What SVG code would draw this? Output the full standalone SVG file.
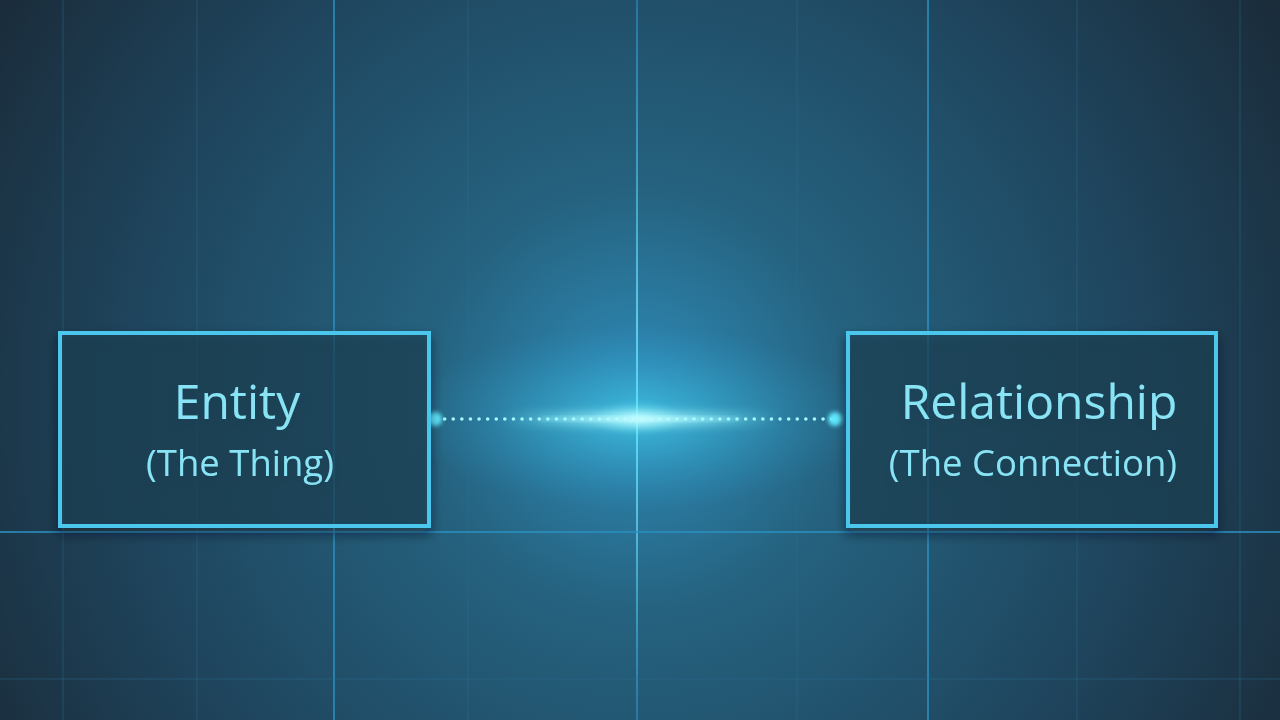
<svg xmlns="http://www.w3.org/2000/svg" width="1280" height="720" viewBox="0 0 1280 720">
<defs>
<radialGradient id="bg" cx="637" cy="400" r="760" gradientUnits="userSpaceOnUse">
<stop offset="0" stop-color="#2f8dbb"/>
<stop offset="0.28" stop-color="#25627f"/>
<stop offset="0.65" stop-color="#1f465f"/>
<stop offset="1" stop-color="#1a2b39"/>
</radialGradient>
<radialGradient id="glow" cx="637" cy="418" r="230" gradientTransform="translate(637 418) scale(1 0.4) translate(-637 -418)" gradientUnits="userSpaceOnUse">
<stop offset="0" stop-color="#7af4ff" stop-opacity="0.85"/>
<stop offset="0.2" stop-color="#45d6f2" stop-opacity="0.45"/>
<stop offset="1" stop-color="#2aa0d0" stop-opacity="0"/>
</radialGradient>
<linearGradient id="vglow" x1="0" y1="0" x2="0" y2="720" gradientUnits="userSpaceOnUse">
<stop offset="0" stop-color="#2a8fbf" stop-opacity="0.6"/>
<stop offset="0.58" stop-color="#6fe6ff" stop-opacity="1"/>
<stop offset="1" stop-color="#2a8fbf" stop-opacity="0.6"/>
</linearGradient>
<linearGradient id="streak" x1="500" y1="0" x2="780" y2="0" gradientUnits="userSpaceOnUse">
<stop offset="0" stop-color="#7ff6ff" stop-opacity="0"/>
<stop offset="0.5" stop-color="#c4fcff" stop-opacity="1"/>
<stop offset="1" stop-color="#7ff6ff" stop-opacity="0"/>
</linearGradient>
<filter id="blur" x="-20%" y="-50%" width="140%" height="200%"><feGaussianBlur stdDeviation="2"/></filter>
<filter id="blur2" x="-20%" y="-300%" width="140%" height="700%"><feGaussianBlur stdDeviation="4"/></filter>
<filter id="shadow" x="-10%" y="-10%" width="120%" height="130%"><feDropShadow dx="0" dy="6" stdDeviation="6" flood-color="#0a1822" flood-opacity="0.6"/></filter>
<style>
.gm{stroke:#2a8fbf;stroke-width:2;opacity:0.8}
.gf{stroke:#2a6f92;stroke-width:1;opacity:0.45}
.box{fill:#1d4259;fill-opacity:0.6;stroke:#4cc6ec;stroke-width:4}
.t1{font-family:"Open Sans","Noto Sans",sans-serif;font-size:48px;fill:#88e4f5;text-anchor:middle}
.t2{font-family:"Open Sans","Noto Sans",sans-serif;font-size:36.5px;fill:#88e4f5;text-anchor:middle}
</style>
</defs>
<rect width="1280" height="720" fill="url(#bg)"/>
<g id="grid">
<line class="gf" x1="63" y1="0" x2="63" y2="720"/>
<line class="gf" x1="197" y1="0" x2="197" y2="720"/>
<line class="gm" x1="334" y1="0" x2="334" y2="720"/>
<line class="gf" x1="468" y1="0" x2="468" y2="720"/>
<line x1="637" y1="0" x2="637" y2="720" stroke="url(#vglow)" stroke-width="2"/>
<line class="gf" x1="797" y1="0" x2="797" y2="720"/>
<line class="gm" x1="928" y1="0" x2="928" y2="720"/>
<line class="gf" x1="1077" y1="0" x2="1077" y2="720"/>
<line class="gf" x1="1240" y1="0" x2="1240" y2="720"/>
<line class="gm" x1="0" y1="532" x2="1280" y2="532"/>
<line class="gf" x1="0" y1="679" x2="1280" y2="679"/>
</g>
<ellipse cx="637" cy="418" rx="240" ry="95" fill="url(#glow)"/>
<g id="connectors">
<line x1="436" y1="419" x2="836" y2="419" stroke="#5fe6ff" stroke-width="6" stroke-dasharray="2 6.5" stroke-linecap="round" filter="url(#blur)" opacity="0.8"/>
<line x1="436" y1="419" x2="836" y2="419" stroke="#a6f6ff" stroke-width="3.5" stroke-dasharray="0.1 8.5" stroke-linecap="round"/>
<rect x="500" y="412" width="280" height="14" fill="url(#streak)" filter="url(#blur2)" opacity="0.9"/>
<rect x="540" y="417" width="200" height="4" fill="url(#streak)" filter="url(#blur)"/>
<circle cx="435" cy="419" r="7" fill="#5fe8ff" filter="url(#blur)"/>
<circle cx="835" cy="419" r="7" fill="#5fe8ff" filter="url(#blur)"/>
</g>
<g id="entity" filter="url(#shadow)">
<rect class="box" x="60" y="333" width="369" height="193"/>
<text class="t1" x="237" y="419">Entity</text>
<text class="t2" x="240" y="476">(The Thing)</text>
</g>
<g id="relationship" filter="url(#shadow)">
<rect class="box" x="848" y="333" width="368" height="193"/>
<text class="t1" x="1039" y="419">Relationship</text>
<text class="t2" x="1033" y="476">(The Connection)</text>
</g>
</svg>
